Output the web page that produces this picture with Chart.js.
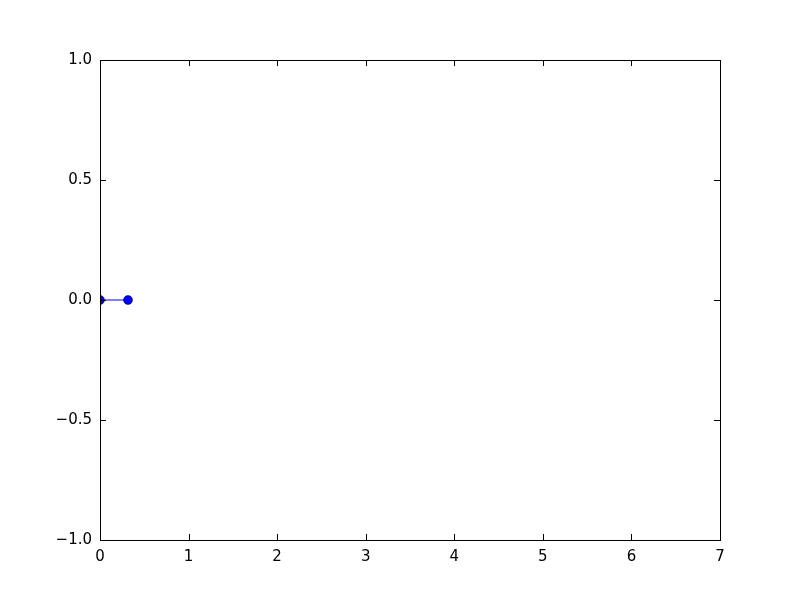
<!DOCTYPE html>
<html>
<head>
<meta charset="utf-8">
<script src="https://cdn.jsdelivr.net/npm/chart.js@4"></script>
<style>
  html, body { margin: 0; padding: 0; background: #ffffff; }
  canvas { display: block; }
</style>
</head>
<body>
<canvas id="chart" width="800" height="600"></canvas>
<script>
// data
const xValues = [0, 0.316];
const yValues = [0, 0];
const xTicks = [0, 1, 2, 3, 4, 5, 6, 7];
const yTicks = [-1.0, -0.5, 0.0, 0.5, 1.0];

const points = xValues.map((x, i) => ({ x: x, y: yValues[i] }));

function fmtY(v) {
    const s = Math.abs(v).toFixed(1);
    return v < 0 ? '\u2212' + s : s;
}

// frame + inward ticks on all four sides, matplotlib classic look
const framePlugin = {
    id: 'frame',
    afterDraw(chart) {
        const ctx = chart.ctx;
        const a = chart.chartArea;
        const xs = chart.scales.x, ys = chart.scales.y;
        const len = 6;
        ctx.save();
        ctx.strokeStyle = '#000000';
        ctx.lineWidth = 1;
        ctx.beginPath();
        xTicks.forEach(t => {
            const px = Math.round(xs.getPixelForValue(t)) + 0.5;
            ctx.moveTo(px, a.bottom); ctx.lineTo(px, a.bottom - len);
            ctx.moveTo(px, a.top); ctx.lineTo(px, a.top + len);
        });
        yTicks.forEach(t => {
            const py = Math.round(ys.getPixelForValue(t)) + 0.5;
            ctx.moveTo(a.left, py); ctx.lineTo(a.left + len, py);
            ctx.moveTo(a.right, py); ctx.lineTo(a.right - len, py);
        });
        ctx.stroke();
        ctx.strokeRect(Math.round(a.left) + 0.5, Math.round(a.top) + 0.5,
                       Math.round(a.right - a.left), Math.round(a.bottom - a.top));
        ctx.restore();
    }
};

const ctx = document.getElementById('chart').getContext('2d');
new Chart(ctx, {
    type: 'line',
    data: {
        datasets: [{
            data: points,
            borderColor: '#0000ff',
            borderWidth: 1,
            backgroundColor: '#0000ff',
            pointBackgroundColor: '#0000ff',
            pointBorderColor: '#000000',
            pointBorderWidth: 0.5,
            pointRadius: 4.5,
            fill: false,
            tension: 0,
            clip: 0
        }]
    },
    options: {
        responsive: false,
        animation: false,
        events: [],
        layout: { padding: { left: 0, right: 80, top: 60, bottom: 0 } },
        plugins: { legend: { display: false }, tooltip: { enabled: false } },
        scales: {
            x: {
                type: 'linear',
                min: 0, max: 7,
                afterBuildTicks: s => { s.ticks = xTicks.map(v => ({ value: v })); },
                afterFit: s => { s.height = 60; },
                grid: { display: false, drawTicks: false },
                border: { display: false },
                ticks: {
                    color: '#000000',
                    padding: 8,
                    font: { family: 'DejaVu Sans', size: 15 },
                    maxRotation: 0,
                    callback: v => String(v)
                }
            },
            y: {
                type: 'linear',
                min: -1, max: 1,
                afterBuildTicks: s => { s.ticks = yTicks.map(v => ({ value: v })); },
                afterFit: s => { s.width = 100; },
                grid: { display: false, drawTicks: false },
                border: { display: false },
                ticks: {
                    color: '#000000',
                    padding: 8,
                    font: { family: 'DejaVu Sans', size: 15 },
                    callback: v => fmtY(v)
                }
            }
        }
    },
    plugins: [framePlugin]
});
</script>
</body>
</html>
